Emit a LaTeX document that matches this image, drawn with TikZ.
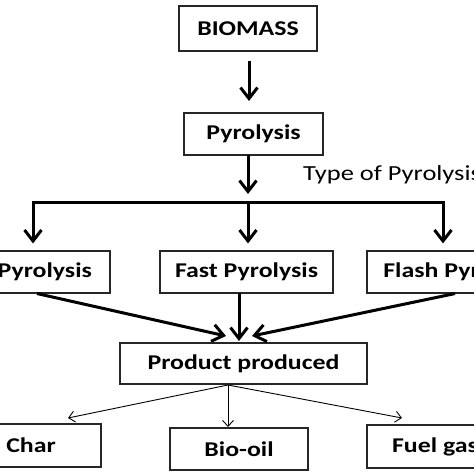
\documentclass[tikz,border=0pt]{standalone}
\usepackage{fontspec}
\setmainfont[FakeStretch=1.23]{Carlito}
\usetikzlibrary{arrows.meta,calc}
\tikzset{
  box/.style={draw=black!85, line width=1.1bp, inner sep=0pt, font=\fontsize{21bp}{24bp}\selectfont\bfseries, text=black},
  bigarr/.style={line width=3bp, -{Straight Barb[length=11bp,width=17bp,line width=3bp]}},
  thinarr/.style={line width=0.9bp, -{Straight Barb[length=6bp,width=11bp,line width=0.9bp]}},
  bar/.style={line width=3bp}
}
\begin{document}
\begin{tikzpicture}[x=1bp,y=-1bp]
\useasboundingbox (0,0) rectangle (474,474);
\clip (0,0) rectangle (474,474);
\node[box, minimum width=138bp, minimum height=45bp] (bio) at (248,28.5) {BIOMASS};
\node[box, minimum width=139bp, minimum height=42bp] (pyr) at (253.5,134) {Pyrolysis};
\node[anchor=west, inner sep=0pt, font=\fontsize{21.5bp}{24bp}\selectfont] (type) at (303,175) {Type of Pyrolysis};
\node[box, minimum width=188bp, minimum height=42bp] (slow) at (16,272) {Slow Pyrolysis};
\node[box, minimum width=173bp, minimum height=42bp] (fast) at (246.5,272) {Fast Pyrolysis};
\node[box, minimum width=188bp, minimum height=42bp] (flash) at (461,272) {Flash Pyrolysis};
\node[box, minimum width=247bp, minimum height=41bp] (prod) at (243.5,363.5) {Product produced};
\node[box, minimum width=140bp, minimum height=43bp] (char) at (31,445.5) {Char};
\node[box, minimum width=138bp, minimum height=42bp] (oil) at (239,449) {Bio-oil};
\node[box, minimum width=136bp, minimum height=43bp] (gas) at (435,446.5) {Fuel gas};

\coordinate (b1) at (249,61);
\coordinate (b2) at (249,101);
\draw[bigarr] (b1) -- (b2);
\coordinate (p1) at (248,155);
\coordinate (p2) at (248,194);
\draw[bigarr] (p1) -- (p2);
\coordinate (hl) at (33,203);
\coordinate (hm) at (248,203);
\coordinate (hr) at (443,203);
\draw[bar, line cap=rect] (hl) -- (hr);
\draw[bigarr, shorten >=7bp] (hl) -- (hl |- slow.north);
\draw[bigarr, shorten >=7bp] (hm) -- (hm |- fast.north);
\draw[bigarr, shorten >=7bp] (hr) -- (hr |- flash.north);

\coordinate (s1) at ($(slow.south)+(21,0)$);
\coordinate (s2) at ($(flash.south)+(-6,0)$);
\coordinate (f1) at (239,293);
\coordinate (e1) at (226,336);
\coordinate (e2) at (239,341);
\coordinate (e3) at (252,336);
\draw[bigarr] (s1) -- (e1);
\draw[bigarr] (f1) -- (e2);
\draw[bigarr] (s2) -- (e3);

\coordinate (q0) at (228,385);
\coordinate (q1) at (68,418);
\coordinate (q2) at (228,427);
\coordinate (q3) at (402,418);
\draw[thinarr] (q0) -- (q1);
\draw[thinarr] (q0) -- (q2);
\draw[thinarr] (q0) -- (q3);
\end{tikzpicture}
\end{document}
